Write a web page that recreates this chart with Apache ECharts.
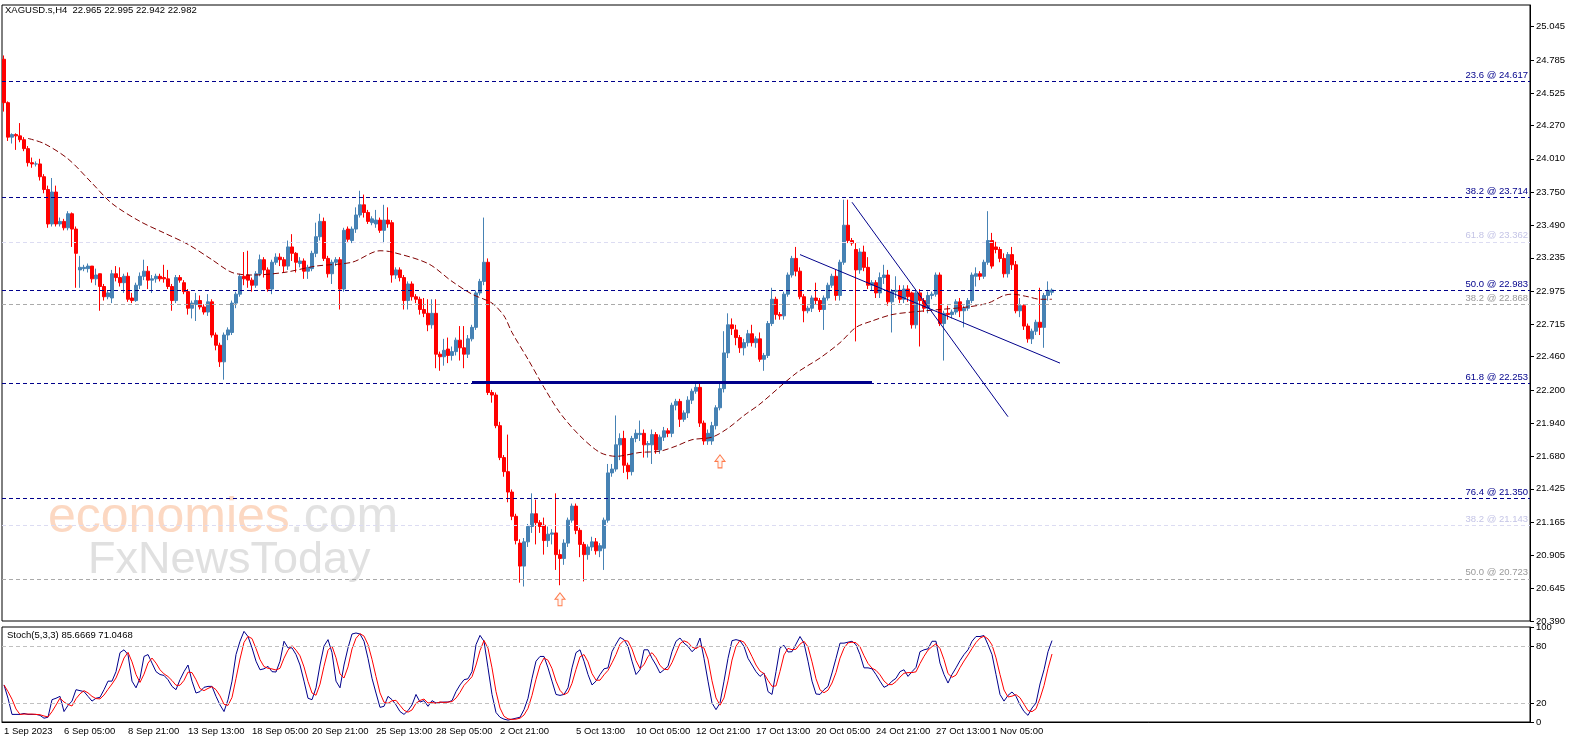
<!DOCTYPE html>
<html><head><meta charset="utf-8">
<script src="https://cdn.jsdelivr.net/npm/echarts@6/dist/echarts.min.js"></script>
<style>html,body{margin:0;padding:0;background:#fff}#c{width:1596px;height:743px}</style>
</head><body><div id="c"></div>
<script>
// OHLC rows [open, close, low, high], H4 bars from 1 Sep 2023
const candles = [
[24.79,24.45,24.38,24.82],[24.45,24.18,24.15,24.46],[24.18,24.20,24.13,24.21],[24.20,24.19,24.08,24.21],[24.19,24.16,24.14,24.29],
[24.16,24.09,24.07,24.18],[24.09,23.98,23.95,24.11],[23.98,23.97,23.94,24.02],[23.97,23.97,23.95,23.99],[23.97,23.87,23.84,24.01],
[23.87,23.77,23.74,23.89],[23.77,23.50,23.47,23.80],[23.50,23.75,23.48,23.86],[23.75,23.50,23.48,23.80],[23.50,23.52,23.48,23.55],
[23.52,23.47,23.45,23.54],[23.47,23.58,23.45,23.60],[23.58,23.46,23.32,23.59],[23.46,23.27,23.00,23.48],[23.14,23.16,23.00,23.25],
[23.15,23.16,23.13,23.18],[23.15,23.17,23.12,23.19],[23.17,23.07,23.04,23.17],[23.07,23.10,23.02,23.15],[23.11,23.01,22.82,23.11],
[23.01,22.93,22.90,23.03],[22.93,22.96,22.91,22.98],[22.92,23.11,22.88,23.14],[23.11,23.08,23.05,23.17],[23.08,23.04,23.01,23.16],
[23.04,23.09,22.96,23.11],[23.09,22.91,22.89,23.12],[22.92,22.90,22.88,22.96],[22.90,23.02,22.89,23.04],[23.02,23.09,22.99,23.12],
[23.09,23.13,23.06,23.22],[23.13,23.06,22.99,23.17],[23.06,23.07,22.96,23.10],[23.07,23.09,23.04,23.11],[23.09,23.07,23.05,23.11],
[23.08,23.07,23.04,23.18],[23.07,23.01,22.99,23.14],[23.01,22.90,22.82,23.03],[22.90,23.08,22.88,23.10],[23.08,23.06,23.04,23.10],
[23.04,22.97,22.95,23.06],[22.97,22.84,22.79,22.99],[22.84,22.88,22.76,22.90],[22.87,22.90,22.74,22.96],[22.90,22.85,22.83,22.94],
[22.85,22.81,22.79,22.87],[22.81,22.89,22.78,22.95],[22.89,22.63,22.61,22.91],[22.63,22.55,22.51,22.65],[22.55,22.42,22.38,22.57],
[22.42,22.63,22.28,22.65],[22.63,22.67,22.59,22.69],[22.65,22.88,22.63,22.90],[22.88,22.95,22.84,22.97],[22.95,23.09,22.93,23.11],
[23.09,23.07,23.02,23.28],[23.10,23.06,23.00,23.29],[23.06,23.02,22.97,23.08],[23.02,23.11,23.00,23.13],[23.11,23.22,23.09,23.26],
[23.22,23.14,23.08,23.24],[23.14,22.99,22.97,23.16],[22.99,23.20,22.95,23.22],[23.20,23.24,23.18,23.27],[23.24,23.22,23.17,23.27],
[23.22,23.17,23.12,23.24],[23.17,23.32,23.14,23.37],[23.32,23.27,23.21,23.42],[23.27,23.20,23.12,23.28],[23.19,23.21,23.16,23.24],
[23.21,23.13,23.07,23.23],[23.13,23.16,23.07,23.18],[23.15,23.27,23.13,23.29],[23.27,23.40,23.24,23.51],[23.40,23.52,23.37,23.58],
[23.52,23.23,23.21,23.55],[23.23,23.11,23.08,23.25],[23.11,23.20,23.03,23.22],[23.20,23.22,23.17,23.24],[23.22,22.99,22.83,23.24],
[22.99,23.45,22.97,23.47],[23.46,23.38,23.36,23.48],[23.37,23.46,23.35,23.48],[23.46,23.57,23.43,23.63],[23.57,23.65,23.55,23.76],
[23.65,23.59,23.55,23.73],[23.59,23.52,23.50,23.61],[23.51,23.54,23.49,23.56],[23.50,23.53,23.47,23.61],[23.53,23.45,23.43,23.55],
[23.45,23.53,23.35,23.65],[23.53,23.50,23.47,23.63],[23.51,23.10,23.04,23.53],[23.10,23.14,23.07,23.16],[23.14,23.08,23.05,23.16],
[23.08,22.90,22.83,23.10],[22.90,23.03,22.83,23.05],[23.03,22.93,22.90,23.05],[22.93,22.91,22.88,22.95],[22.91,22.83,22.79,22.93],
[22.83,22.80,22.77,22.92],[22.80,22.71,22.66,22.91],[22.71,22.80,22.68,22.91],[22.80,22.48,22.37,22.91],[22.48,22.46,22.35,22.50],
[22.46,22.51,22.39,22.60],[22.52,22.47,22.41,22.61],[22.47,22.50,22.43,22.54],[22.50,22.59,22.47,22.61],[22.59,22.53,22.43,22.70],
[22.53,22.48,22.37,22.70],[22.48,22.60,22.45,22.63],[22.60,22.69,22.58,22.71],[22.69,22.96,22.67,22.98],[22.96,23.05,22.94,23.07],
[23.05,23.20,23.02,23.55],[23.20,22.18,22.16,23.23],[22.18,22.16,22.10,22.20],[22.16,21.92,21.90,22.18],[21.92,21.67,21.65,21.95],
[21.67,21.56,21.52,21.69],[21.56,21.40,21.32,21.85],[21.40,21.21,21.18,21.42],[21.21,21.02,20.99,21.23],[21.00,20.82,20.69,21.03],
[20.82,21.01,20.66,21.04],[21.01,21.13,20.97,21.15],[21.13,21.23,21.08,21.39],[21.23,21.16,20.99,21.34],[21.16,21.13,21.08,21.18],
[21.14,21.02,20.91,21.20],[21.02,21.07,20.97,21.13],[21.07,21.08,20.99,21.11],[21.08,20.91,20.79,21.39],[20.91,20.88,20.67,20.95],
[20.88,21.00,20.83,21.03],[21.00,21.18,20.97,21.20],[21.18,21.29,21.16,21.31],[21.29,21.10,21.07,21.31],[21.10,20.99,20.89,21.12],
[20.99,20.91,20.70,21.01],[20.91,20.97,20.87,20.99],[20.97,21.01,20.94,21.05],[21.01,20.94,20.91,21.04],[20.94,20.98,20.89,21.00],
[20.96,21.18,20.79,21.20],[21.18,21.55,21.16,21.62],[21.55,21.58,21.52,21.62],[21.58,21.77,21.56,22.00],[21.77,21.82,21.65,21.86],
[21.82,21.61,21.55,21.88],[21.61,21.56,21.50,21.63],[21.56,21.82,21.53,21.84],[21.82,21.86,21.79,21.89],[21.85,21.86,21.80,21.96],
[21.86,21.77,21.67,21.89],[21.77,21.78,21.67,21.80],[21.77,21.85,21.62,21.89],[21.85,21.73,21.70,21.87],[21.73,21.83,21.70,21.85],
[21.83,21.88,21.80,21.91],[21.88,21.86,21.83,21.90],[21.86,22.08,21.83,22.10],[22.08,22.11,22.04,22.13],[22.11,21.97,21.91,22.13],
[21.97,22.02,21.95,22.04],[22.02,22.12,21.98,22.15],[22.12,22.19,22.09,22.21],[22.19,22.22,22.17,22.26],[22.22,21.94,21.91,22.25],
[21.94,21.80,21.77,21.96],[21.80,21.86,21.77,21.89],[21.80,21.92,21.77,21.95],[21.92,22.06,21.89,22.08],[22.06,22.21,22.04,22.26],
[22.21,22.49,22.18,22.66],[22.49,22.71,22.45,22.80],[22.71,22.68,22.63,22.76],[22.67,22.61,22.55,22.71],[22.61,22.53,22.49,22.63],
[22.53,22.57,22.47,22.60],[22.57,22.64,22.54,22.67],[22.64,22.57,22.54,22.71],[22.57,22.60,22.53,22.62],[22.60,22.44,22.42,22.65],
[22.44,22.47,22.35,22.49],[22.47,22.72,22.45,22.74],[22.72,22.91,22.70,23.00],[22.91,22.79,22.75,22.93],[22.79,22.78,22.75,22.81],
[22.78,22.95,22.75,22.97],[22.95,23.10,22.93,23.12],[23.10,23.23,23.08,23.25],[23.23,23.13,23.09,23.32],[23.13,22.93,22.91,23.16],
[22.93,22.82,22.73,22.95],[22.82,22.84,22.80,22.86],[22.84,22.92,22.81,22.94],[22.92,22.90,22.87,23.04],[22.90,22.83,22.81,22.92],
[22.83,22.92,22.67,22.94],[22.92,23.02,22.90,23.04],[23.02,23.09,23.00,23.11],[23.09,22.94,22.90,23.14],[22.94,23.20,22.90,23.22],
[23.20,23.49,23.18,23.69],[23.49,23.37,23.35,23.69],[23.37,23.35,23.33,23.39],[23.30,23.14,22.58,23.35],[23.14,23.28,23.11,23.31],
[23.28,23.16,23.13,23.33],[23.16,23.02,22.99,23.24],[23.02,23.04,22.98,23.06],[23.04,22.96,22.92,23.06],[22.96,23.08,22.92,23.12],
[23.08,23.10,23.03,23.18],[23.10,22.89,22.86,23.14],[22.89,22.97,22.65,22.99],[22.97,22.98,22.92,23.09],[22.98,22.91,22.88,23.02],
[22.91,22.99,22.88,23.02],[22.99,22.93,22.89,23.02],[22.96,22.71,22.68,22.97],[22.71,22.96,22.68,22.99],[22.96,22.90,22.54,22.99],
[22.90,22.84,22.81,22.92],[22.84,22.94,22.80,22.97],[22.94,22.95,22.91,22.97],[22.95,23.10,22.93,23.12],[23.10,22.72,22.70,23.12],
[22.72,22.80,22.43,22.82],[22.80,22.79,22.75,22.86],[22.79,22.81,22.76,22.83],[22.81,22.89,22.79,22.91],[22.89,22.82,22.77,22.92],
[22.82,22.84,22.69,22.86],[22.84,22.90,22.82,22.92],[22.90,23.10,22.88,23.12],[23.09,23.11,23.01,23.16],[23.11,23.09,23.06,23.13],
[23.09,23.20,23.07,23.22],[23.20,23.37,23.18,23.60],[23.37,23.17,23.15,23.43],[23.32,23.30,23.27,23.36],[23.30,23.23,23.20,23.32],
[23.23,23.11,23.08,23.27],[23.11,23.26,23.08,23.28],[23.26,23.18,23.14,23.32],[23.18,22.82,22.80,23.21],[22.82,22.86,22.77,22.92],
[22.86,22.70,22.67,22.87],[22.70,22.60,22.57,22.72],[22.60,22.66,22.56,22.68],[22.66,22.73,22.63,22.75],[22.73,22.69,22.63,23.00],
[22.69,22.94,22.53,22.96],[22.94,22.98,22.90,23.05],[22.965,22.982,22.942,22.995]
];
// moving average (read at sample bars)
const maIdx = [6,10,16,22,27,34,40,46,52,57,62,70,78,87,94,97,106,112,117,122,125,127,131,135,139,144,149,153,159,164,168,172,177,181,185,189,198,204,209,213,217,222,227,234,241,246,250,252,256,259,262];
const maVal = [24.17,24.13,24.01,23.82,23.66,23.52,23.43,23.34,23.22,23.12,23.10,23.12,23.17,23.20,23.29,23.28,23.19,23.05,22.95,22.88,22.78,22.65,22.44,22.22,22.02,21.84,21.71,21.68,21.71,21.72,21.76,21.81,21.83,21.90,22.00,22.09,22.33,22.45,22.57,22.69,22.74,22.79,22.81,22.83,22.85,22.88,22.94,22.95,22.93,22.91,22.91];
// Stochastic %K (5,3,3)
const stochK = [39,25,8,8,8,9,8,8,8,7,4,5,23.5,25,27,11,17.5,22,34,33,32,27,22,25,26,34,43,43,53,73,76,71,43,36,46,69,71,62,53,50,49,44.5,37.5,34,44.5,53,60,43,30.5,32,36.5,37.5,37.5,27,18,11,23.5,43,71,85,95.4,90,78,64,55,56,58.6,53,52.6,64,85,78,78,71,60,43,25,23.5,36,60,80,86.7,73,43,
36,60,78,92.6,93.7,92.6,85,67,46,30.5,15.4,16.5,27,23.5,18,11,8,12,18,29,21,22.5,16.5,22.5,20,20.7,21,21,22.5,32,39,44.5,45.5,53,81.4,91.2,85,57,29,10,5,3,2,3,4,5,13,25,46,64,69,69,57,43,29,28,29,36,57,73,76,64,50,39,43,50,56,57,74,82,89,86.7,79.6,64,50,55,76,76,67,60,51.6,55,58.6,74,85,88.4,83,
79.6,74,78,88.4,67,43,20,13,20,43,67,85.6,86.7,85.6,79.6,67,60,53,48,51.6,32,29,53,78,80.7,73.7,74,82,90,83,64,43,29.5,29,34,37.5,51.6,67,83,83,84,85,81.4,71,57,57,56,50,43,36.5,38.6,43,46,53,55,48,53,57.5,74,76,77,85,85,62,50,41,50,57,64.6,71,76,85,90,90,91,81.4,71,50,29,22,28,31.6,27,18,11,7,14.7,
20,40,55,74,85.67];
const priceTicks = [25.045,24.785,24.525,24.270,24.010,23.750,23.490,23.235,22.975,22.715,22.460,22.200,21.940,21.680,21.425,21.165,20.905,20.645,20.390];
const stochTicks = [0,20,80,100];
const timeLabelIdx = [0,15,31,46,62,77,93,108,124,143,158,173,188,203,218,233,247];
const timeLabels = ['1 Sep 2023','6 Sep 05:00','8 Sep 21:00','13 Sep 13:00','18 Sep 05:00','20 Sep 21:00','25 Sep 13:00','28 Sep 05:00','2 Oct 21:00','5 Oct 13:00','10 Oct 05:00','12 Oct 21:00','17 Oct 13:00','20 Oct 05:00','24 Oct 21:00','27 Oct 13:00','1 Nov 05:00'];
const fibLevels = [
 {v:24.617,t:'23.6 @ 24.617',c:'#00008b'},{v:23.714,t:'38.2 @ 23.714',c:'#00008b'},{v:23.362,t:'61.8 @ 23.362',c:'#dcdcf2'},
 {v:22.983,t:'50.0 @ 22.983',c:'#00008b'},{v:22.868,t:'38.2 @ 22.868',c:'#aaaaaa'},{v:22.253,t:'61.8 @ 22.253',c:'#00008b'},
 {v:21.350,t:'76.4 @ 21.350',c:'#00008b'},{v:21.143,t:'38.2 @ 21.143',c:'#dcdcf2'},{v:20.723,t:'50.0 @ 20.723',c:'#aaaaaa'}];
const lastPrice = 22.982;
const arrows = [[139,20.56],[179,21.64]];
const NSLOT = 382;

const cats = Array.from({length:NSLOT},(_,i)=>String(i));
const labelMap = {}; timeLabelIdx.forEach((k,j)=>labelMap[k]=timeLabels[j]);
const maData = new Array(candles.length).fill(null); maIdx.forEach((k,j)=>maData[k]=maVal[j]);
const stochD = stochK.map((v,i)=>{const a=stochK.slice(Math.max(0,i-2),i+1);return +(a.reduce((s,x)=>s+x,0)/a.length).toFixed(2);});
const F = 'Liberation Sans, Arial, sans-serif';

const chart = echarts.init(document.getElementById('c'));
chart.setOption({
 animation:false,
 textStyle:{fontFamily:F},
 grid:[
  {left:2,right:66,top:5,height:616,show:true,borderColor:'#000',borderWidth:1},
  {left:2,right:66,top:627,height:95,show:true,borderColor:'#000',borderWidth:1}
 ],
 xAxis:[
  {type:'category',gridIndex:0,data:cats,boundaryGap:true,axisLine:{show:false},axisTick:{show:false},axisLabel:{show:false}},
  {type:'category',gridIndex:1,data:cats,boundaryGap:true,axisLine:{lineStyle:{color:'#000'}},
   axisTick:{interval:(i)=>labelMap[i]!==undefined,length:4,inside:false,lineStyle:{color:'#000'}},
   axisLabel:{interval:0,formatter:(v,i)=>labelMap[i]||'',align:'left',fontSize:9.5,color:'#000',margin:4,hideOverlap:false}}
 ],
 yAxis:[
  {type:'value',gridIndex:0,position:'right',min:20.39,max:25.215,splitLine:{show:false},
   axisLine:{show:true,lineStyle:{color:'#000'}},axisTick:{show:true,customValues:priceTicks,length:4,lineStyle:{color:'#000'}},
   axisLabel:{customValues:priceTicks,formatter:v=>v.toFixed(3),fontSize:9.5,color:'#000',margin:6}},
  {type:'value',gridIndex:1,position:'right',min:0,max:100,splitLine:{show:false},
   axisLine:{show:true,lineStyle:{color:'#000'}},axisTick:{show:true,customValues:stochTicks,length:4,lineStyle:{color:'#000'}},
   axisLabel:{customValues:stochTicks,fontSize:9.5,color:'#000',margin:6}}
 ],
 series:[
  {type:'candlestick',xAxisIndex:0,yAxisIndex:0,data:candles,barWidth:3,
   itemStyle:{color:'#4682b4',color0:'#ff0000',borderColor:'#4682b4',borderColor0:'#ff0000',borderWidth:1},
   markLine:{silent:true,symbol:'none',animation:false,
    data:[
     ...fibLevels.map(f=>({yAxis:f.v,lineStyle:{color:f.c,type:[4,3],width:1},
       label:{show:true,position:'insideEndTop',formatter:f.t,color:f.c==='#aaaaaa'?'#999':(f.c==='#dcdcf2'?'#c4c4e6':'#00008b'),fontSize:9.5,distance:[2,1]}})),
     {yAxis:lastPrice,lineStyle:{opacity:0},label:{show:true,position:'end',formatter:lastPrice.toFixed(3),backgroundColor:'#000',color:'#fff',fontSize:9.5,padding:[2,3],distance:3}},
     [{coord:[117,22.26],lineStyle:{color:'#00008b',width:3,type:'solid'},label:{show:false}},{coord:[217,22.26]}],
     [{coord:[212,23.67],lineStyle:{color:'#00008b',width:1,type:'solid'},label:{show:false}},{coord:[251,21.99]}],
     [{coord:[199,23.26],lineStyle:{color:'#00008b',width:1,type:'solid'},label:{show:false}},{coord:[264,22.41]}]
    ]}},
  {type:'line',xAxisIndex:0,yAxisIndex:0,data:maData,connectNulls:true,showSymbol:false,smooth:0.3,
   lineStyle:{color:'#800000',width:1,type:[6,3]},z:3},
  {type:'scatter',xAxisIndex:0,yAxisIndex:0,data:arrows,symbol:'path://M5,0 L10,6 L7,6 L7,12 L3,12 L3,6 L0,6 Z',symbolSize:[10,13],
   itemStyle:{color:'rgba(255,220,200,0.3)',borderColor:'#ff5a1f',borderWidth:1}},
  {type:'line',xAxisIndex:1,yAxisIndex:1,data:stochK,showSymbol:false,lineStyle:{color:'#00008b',width:1},
   markLine:{silent:true,symbol:'none',data:[{yAxis:80},{yAxis:20}],lineStyle:{color:'#c0c0c0',type:[4,3],width:1},label:{show:false}}},
  {type:'line',xAxisIndex:1,yAxisIndex:1,data:stochD,showSymbol:false,lineStyle:{color:'#ff0000',width:1}}
 ],
 graphic:[
  {type:'text',left:5,top:5,style:{text:'XAGUSD.s,H4  22.965 22.995 22.942 22.982',font:'9.5px '+F,fill:'#000'}},
  {type:'text',left:7,top:630,style:{text:'Stoch(5,3,3) 85.6669 71.0468',font:'9.5px '+F,fill:'#000'}},
  {type:'text',left:48,top:493,z:0,style:{text:'{a|economies}{b|.com}',rich:{a:{fill:'#fcd8c2',font:'50px '+F},b:{fill:'#e2e2e2',font:'50px '+F}}}},
  {type:'text',left:88,top:538,z:0,style:{text:'FxNewsToday',fill:'#e0e0e0',font:'45px '+F}}
 ]
});
</script></body></html>
